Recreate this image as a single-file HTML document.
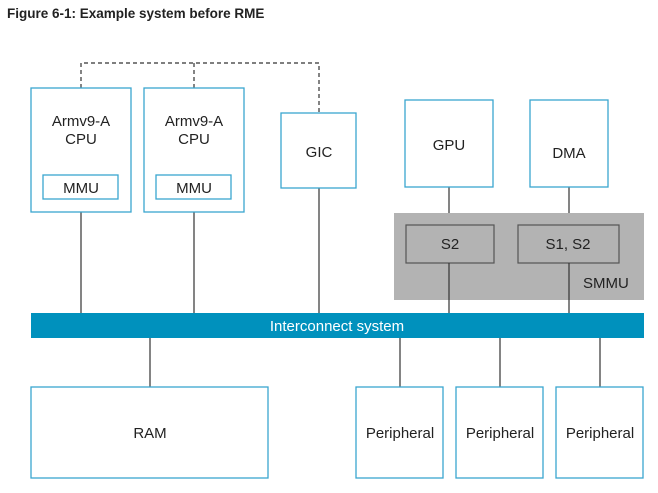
<!DOCTYPE html><html><head><style>
body{margin:0;background:#fff;width:658px;height:488px;overflow:hidden;font-family:"Liberation Sans",sans-serif}
svg text{font-family:"Liberation Sans",sans-serif;font-size:15px;fill:#222}
</style></head><body>
<svg width="658" height="488" xmlns="http://www.w3.org/2000/svg">
<text x="7" y="18" style="font-weight:bold;font-size:13.5px" fill="#111">Figure 6-1: Example system before RME</text>
<g stroke="#333" stroke-width="1.2" fill="none">
<path d="M81 88V63H319V113M194 63V88" stroke-dasharray="4,3"/>
<path d="M81 199V313M194 199V313M319 188V313M449 187V225M449 263V313M569 187V225M569 263V313M150 338V387M400 338V387M500 338V387M600 338V387"/>
</g>
<g fill="#fff" stroke="#3aa6cf" stroke-width="1.3">
<rect x="31" y="88" width="100" height="124"/><rect x="43" y="175" width="75" height="24"/>
<rect x="144" y="88" width="100" height="124"/><rect x="156" y="175" width="75" height="24"/>
<rect x="281" y="113" width="75" height="75"/>
<rect x="405" y="100" width="88" height="87"/><rect x="530" y="100" width="78" height="87"/>
<rect x="31" y="387" width="237" height="91"/>
<rect x="356" y="387" width="87" height="91"/><rect x="456" y="387" width="87" height="91"/><rect x="556" y="387" width="87" height="91"/>
</g>
<rect x="394" y="213" width="250" height="87" fill="#b3b3b3"/>
<g fill="#b3b3b3" stroke="#555" stroke-width="1.2"><rect x="406" y="225" width="88" height="38"/><rect x="518" y="225" width="101" height="38"/></g>
<path d="M449 263V300M569 263V300" stroke="#333" stroke-width="1.2"/>
<rect x="31" y="313" width="613" height="25" fill="#0091bd"/>
<g text-anchor="middle">
<text x="81" y="126">Armv9-A</text><text x="81" y="144">CPU</text><text x="81" y="193">MMU</text>
<text x="194" y="126">Armv9-A</text><text x="194" y="144">CPU</text><text x="194" y="193">MMU</text>
<text x="319" y="157">GIC</text><text x="449" y="150">GPU</text><text x="569" y="158">DMA</text>
<text x="450" y="249">S2</text><text x="568" y="249">S1, S2</text>
<text x="337" y="331" style="fill:#fff">Interconnect system</text>
<text x="150" y="438">RAM</text><text x="400" y="438">Peripheral</text><text x="500" y="438">Peripheral</text><text x="600" y="438">Peripheral</text>
</g>
<text x="583" y="288">SMMU</text>
</svg></body></html>
